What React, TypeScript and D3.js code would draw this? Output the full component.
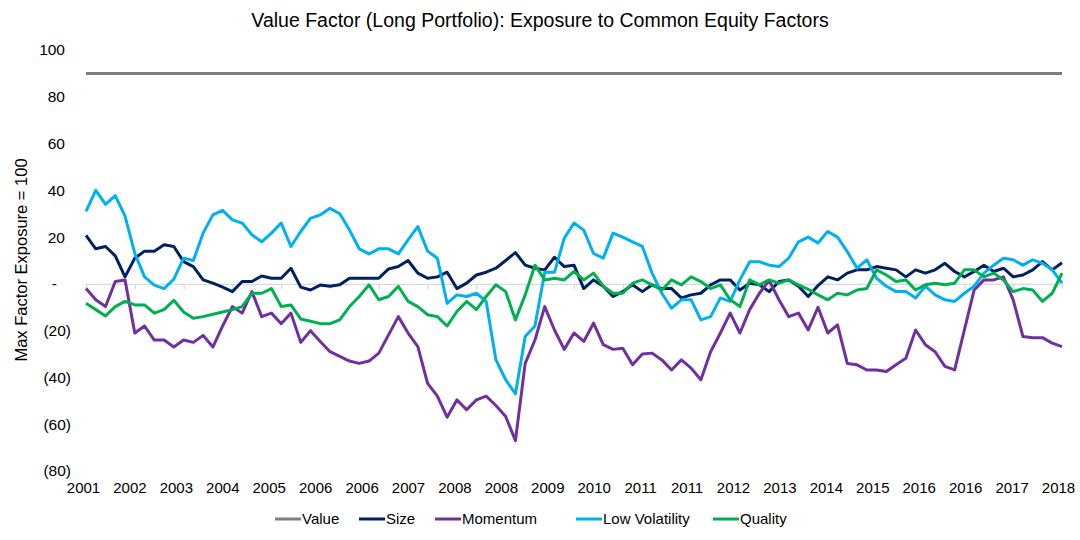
import React, { useRef, useEffect } from 'react';
import * as d3 from 'd3';

// Roughly bi-monthly readings, Jan 2001 .. mid 2018
const xLabels = [
  '2001', '2002', '2003', '2004', '2005', '2006', '2006', '2007', '2008', '2008', '2009',
  '2010', '2011', '2011', '2012', '2013', '2014', '2015', '2016', '2016', '2017', '2018'
];

const yTicks = [-80, -60, -40, -20, 0, 20, 40, 60, 80, 100];

const sizeVals = [
  20.7, 15, 16, 12, 3, 11, 14, 14, 16.7, 16, 9.5, 7.4, 1.7, 0.3, -1.4, -3.3, 1, 1, 3.4, 2.4,
  2.4, 6.7, -1.4, -2.6, -0.5, -1, -0.4, 2.4, 2.4, 2.4, 2.4, 6.4, 7.4, 10, 4.6, 2.4, 3, 5, -2, 0.3,
  3.8, 5, 6.7, 10, 13.4, 8, 6.7, 6, 11.4, 7.4, 8, -2, 1.7, -1, -5.4, -3.3, -0.4, -3.3, -0.4, -2,
  -2, -6, -4.7, -4, -0.4, 1.7, 1.7, -2.6, 0.3, -0.4, -3.3, 1, 1.7, -1, -5.4, -0.7, 3, 1.7, 4.6, 6,
  6, 7.4, 6.7, 6, 3, 6, 4.6, 6, 8.8, 5.3, 3, 5.3, 8, 5.3, 6.7, 3, 3.8, 6, 9.5, 6, 9
];

const momentumVals = [
  -2, -6.8, -9.7, 1, 1.7, -21, -18, -24, -24, -27, -24, -25, -22, -27, -18, -9.7, -12.5, -3.3, -14, -12.5,
  -17, -12.5, -25, -20, -24.6, -29, -31, -33, -34, -33, -29.6, -21.8, -14, -21, -26.8, -42.5, -48, -57, -49.6, -53.8,
  -49.6, -48, -52, -56.7, -67, -34, -24, -9.7, -19.7, -28, -21, -24.6, -16.8, -26, -28, -27.5, -34.6, -30, -29.6, -32.5,
  -36.8, -32.5, -36, -41, -29, -21, -12.5, -21, -11, -4, 1.5, -6.8, -14, -12.5, -19.7, -10, -21, -17.5, -34, -34.6,
  -36.8, -36.8, -37.5, -34.6, -31.8, -19.7, -26, -29, -35.3, -36.8, -19.7, -2.6, 1.7, 1.7, 3, -6.8, -22.5, -23, -23, -25.3,
  -26.8
];

const lowVolVals = [
  31, 40, 34, 37.7, 29, 13, 3, -0.5, -2, 2, 11, 10, 21.7, 29.5, 31.4, 27.4, 26, 21, 18, 21.7,
  26, 16, 22.4, 28, 29.5, 32.3, 30, 23, 15, 12.8, 15, 15, 12.8, 18.8, 24.5, 14, 11, -8.3, -4.7, -5.4,
  -4, -7.5, -32.5, -41, -47, -22.5, -18, 5, 5, 19.5, 26, 23, 13, 11, 21.7, 20, 18, 16, 4.6, -4,
  -10.4, -6.8, -6.8, -15.4, -14, -6, -7.5, 1.7, 9.5, 9.5, 8, 7.4, 11, 18, 20, 17.5, 22.4, 20, 13.8, 6.7,
  10.3, 2.4, -1, -3.3, -3.3, -6, -1, -4.7, -6.8, -7.5, -4, -1, 4.6, 8, 11, 10.3, 8, 10.3, 8.8, 6,
  0.3
];

const qualityVals = [
  -8.3, -11, -13.7, -9.7, -7.5, -9, -9, -12.5, -11, -7, -12, -14.7, -14, -13, -12, -11, -9.7, -4, -4, -2,
  -9.7, -9, -15, -16, -17, -17, -15.4, -9.7, -5.4, -0.4, -6.8, -5.4, -1, -7.5, -9.7, -13.2, -14, -18, -11.8, -7.5,
  -11, -5.4, -0.4, -3.3, -15.4, -4.7, 8, 1.7, 2.4, 1.7, 5.3, 1.7, 4.6, -1, -4, -4, 0.3, 1.7, -0.4, -2.6,
  1.7, -0.4, 3, 1, -2, -0.4, -6.8, -9.7, 1.7, -0.4, 1.7, 0.3, 1.7, -0.4, -2.3, -4.7, -6.8, -4, -4.7, -2.6,
  -2, 6, 3.8, 1, 1.7, -2.6, -0.4, 0.3, -0.4, 0.3, 6, 6, 3, 4.6, 1.7, -3.3, -2, -2.6, -7.5, -4,
  4.6
];

const valueVals = sizeVals.map(() => 90);

const series = [
  { name: 'Value', color: '#7f7f7f', values: valueVals },
  { name: 'Size', color: '#002060', values: sizeVals },
  { name: 'Momentum', color: '#7030a0', values: momentumVals },
  { name: 'Low Volatility', color: '#00b0f0', values: lowVolVals },
  { name: 'Quality', color: '#00b050', values: qualityVals }
];

const legendX = [275, 359, 435, 576, 713];

const W = 1080;
const H = 540;
const FONT = '"Liberation Sans", Arial, sans-serif';

export default function App() {
  const svgRef = useRef<SVGSVGElement>(null);

  useEffect(() => {
    if (!svgRef.current) return;
    const svg = d3.select(svgRef.current);
    svg.selectAll('*').remove();

    const n = sizeVals.length;
    const x = d3.scaleLinear().domain([0, n - 1]).range([86, 1062]);
    const y = d3.scaleLinear().domain([-80, 100]).range([471, 50]);
    const labelX = d3.scalePoint<number>().domain(d3.range(xLabels.length)).range([83, 1058]);

    // Title
    svg.append('text')
      .attr('x', 540)
      .attr('y', 27)
      .attr('text-anchor', 'middle')
      .attr('font-size', 19.5)
      .attr('fill', '#000')
      .text('Value Factor (Long Portfolio): Exposure to Common Equity Factors');

    // Y axis labels
    const yAxis = svg.append('g')
      .attr('transform', 'translate(65,0)')
      .call(d3.axisLeft(y)
        .tickValues(yTicks)
        .tickSize(0)
        .tickPadding(0)
        .tickFormat(d => {
          const v = +d;
          if (v === 0) return '-';
          return v < 0 ? `(${-v})` : `${v}`;
        }));
    yAxis.select('.domain').remove();
    yAxis.selectAll('text')
      .attr('font-family', FONT)
      .attr('font-size', 15.5)
      .attr('fill', '#000')
      .attr('dx', (d: any) => (+d < 0 ? 6 : +d === 0 ? -8 : 0));

    // Y axis title
    svg.append('text')
      .attr('transform', 'translate(27,260) rotate(-90)')
      .attr('text-anchor', 'middle')
      .attr('font-size', 16.5)
      .attr('fill', '#000')
      .text('Max Factor Exposure = 100');

    // Zero axis with tick marks
    const zeroAxis = svg.append('g')
      .attr('transform', `translate(0,${y(0)})`)
      .call(d3.axisBottom(x)
        .tickValues(d3.range(0, n, 5))
        .tickSize(5)
        .tickSizeOuter(0)
        .tickFormat(() => ''));
    zeroAxis.select('.domain').attr('stroke', '#d9d9d9').attr('stroke-width', 1.3);
    zeroAxis.selectAll('.tick line').attr('stroke', '#d9d9d9').attr('stroke-width', 1.3);

    // X labels
    const xAxis = svg.append('g')
      .attr('transform', 'translate(0,482)')
      .call(d3.axisBottom(labelX)
        .tickSize(0)
        .tickPadding(0)
        .tickFormat(i => xLabels[i as number]));
    xAxis.select('.domain').remove();
    xAxis.selectAll('text')
      .attr('font-family', FONT)
      .attr('font-size', 15)
      .attr('fill', '#000');

    // Lines
    const line = d3.line<number>()
      .x((_, i) => x(i))
      .y(d => y(d));

    series.forEach(s => {
      svg.append('path')
        .datum(s.values)
        .attr('fill', 'none')
        .attr('stroke', s.color)
        .attr('stroke-width', 3)
        .attr('stroke-linejoin', 'round')
        .attr('d', line);
    });

    // Legend
    const legend = svg.append('g').attr('transform', 'translate(0,519)');
    series.forEach((s, i) => {
      const g = legend.append('g').attr('transform', `translate(${legendX[i]},0)`);
      g.append('line')
        .attr('x1', 0).attr('x2', 26)
        .attr('stroke', s.color)
        .attr('stroke-width', 3);
      g.append('text')
        .attr('x', 27)
        .attr('dy', '0.35em')
        .attr('font-size', 15)
        .attr('fill', '#000')
        .text(s.name);
    });
  }, []);

  return (
    <div style={{ position: 'absolute', left: 0, top: 0, width: W, height: H, background: '#fff' }}>
      <svg ref={svgRef} width={W} height={H} style={{ display: 'block', fontFamily: FONT }} />
    </div>
  );
}
